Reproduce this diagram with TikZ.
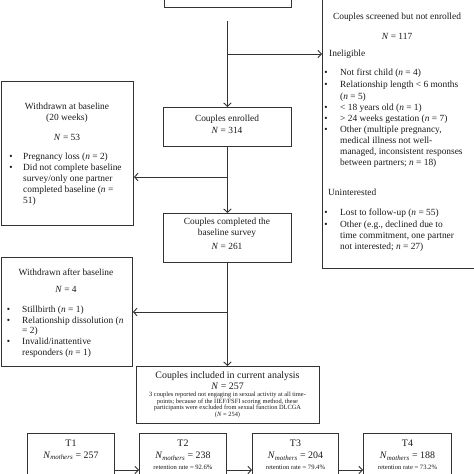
\documentclass[tikz,border=0pt]{standalone}
\usepackage{fontspec}
\setmainfont{Liberation Serif}
\usetikzlibrary{arrows.meta}
\newcommand\Nm{\textit{N}\textsubscript{\textit{mothers}}}
\begin{document}
\begin{tikzpicture}[x=1bp,y=-1bp,
  font=\fontsize{9.4bp}{11bp}\selectfont,
  box/.style={draw=black!80, line width=0.9bp, inner sep=0, anchor=north west},
  txt/.style={inner sep=0, align=center, text=black!90},
  tl/.style={inner sep=0, anchor=base west, text=black!90},
  bul/.style={inner sep=0, anchor=base, text=black!90},
  arr/.style={draw=black!80, line width=0.9bp, -{Straight Barb[length=3.5bp,width=7.5bp]}},
  small/.style={font=\fontsize{6.4bp}{6.4bp}\selectfont},
  tiny/.style={font=\fontsize{6.6bp}{7bp}\selectfont},
  big/.style={font=\fontsize{9.9bp}{11bp}\selectfont}]
\useasboundingbox (0,0) rectangle (474,474);
% boxes
\node[box, minimum width=127bp, minimum height=27bp] (top) at (164,-20) {};
\node[box, minimum width=160bp, minimum height=288bp] (screen) at (322,-20) {};
\node[box, minimum width=132bp, minimum height=144bp] (wb) at (1,81) {};
\node[box, minimum width=128bp, minimum height=39bp] (enr) at (163,107) {};
\node[box, minimum width=128bp, minimum height=49bp] (comp) at (163,213) {};
\node[box, minimum width=131bp, minimum height=109bp] (wa) at (1,257) {};
\node[box, minimum width=183bp, minimum height=57bp] (inc) at (136,366) {};
\node[box, minimum width=87bp, minimum height=60bp] (t1) at (27,433) {};
\node[box, minimum width=87bp, minimum height=60bp] (t2) at (139,433) {};
\node[box, minimum width=86bp, minimum height=60bp] (t3) at (252,433) {};
\node[box, minimum width=88bp, minimum height=60bp] (t4) at (363,433) {};
% connectors
\draw[arr] (enr.north |- 0,21) -- (enr.north);
\draw[arr] (enr.north |- 0,54) -- (screen.west |- 0,54);
\draw[arr] (enr.south) -- (comp.north);
\draw[arr] (enr.south |- 0,177) -- (wb.east |- 0,177);
\draw[arr] (comp.south) -- (comp.south |- inc.north);
\draw[arr] (comp.south |- 0,312) -- (wa.east |- 0,312);
\draw[arr] (t1.east |- 0,470) -- (t2.west |- 0,470);
\draw[arr] (t2.east |- 0,470) -- (t3.west |- 0,470);
\draw[arr] (t3.east |- 0,470) -- (t4.west |- 0,470);
% screened box text
\node[txt] (scrT) at (397,17) {Couples screened but not enrolled};
\node[txt] (scrN) at (397,36) {\textit{N} = 117};
\node[tl] (inel) at (329,57) {Ineligible};
\node[bul] (sb1) at (326,76) {\textbullet};
\node[tl] (s1) at (340,76) {Not first child (\textit{n} = 4)};
\node[bul] (sb2) at (326,88) {\textbullet};
\node[tl] (s2) at (340,88) {Relationship length < 6 months};
\node[tl] (s2b) at (340,99.2) {(\textit{n} = 5)};
\node[bul] (sb3) at (326,110.3) {\textbullet};
\node[tl] (s3) at (340,110.3) {< 18 years old (\textit{n} = 1)};
\node[bul] (sb4) at (326,121.5) {\textbullet};
\node[tl] (s4) at (340,121.5) {> 24 weeks gestation (\textit{n} = 7)};
\node[bul] (sb5) at (326,133) {\textbullet};
\node[tl] (s5) at (340,133) {Other (multiple pregnancy,};
\node[tl] (s5b) at (340,144) {medical illness not well-};
\node[tl] (s5c) at (340,155) {managed, inconsistent responses};
\node[tl] (s5d) at (340,166) {between partners; \textit{n} = 18)};
\node[tl] (unint) at (328,196) {Uninterested};
\node[bul] (ub1) at (326,216) {\textbullet};
\node[tl] (u1) at (340,216) {Lost to follow-up (\textit{n} = 55)};
\node[bul] (ub2) at (326,227.3) {\textbullet};
\node[tl] (u2) at (340,227.3) {Other (e.g., declined due to};
\node[tl] (u2b) at (340,238.3) {time commitment, one partner};
\node[tl] (u2c) at (340,249.3) {not interested; \textit{n} = 27)};
% withdrawn at baseline
\node[txt] (wbT) at (67,106) {Withdrawn at baseline};
\node[txt] (wbW) at (67,118) {(20 weeks)};
\node[txt] (wbN) at (67,137) {\textit{N} = 53};
\node[bul] (wbb1) at (11,159.5) {\textbullet};
\node[tl] (wb1) at (23,159.5) {Pregnancy loss (\textit{n} = 2)};
\node[bul] (wbb2) at (11,170.8) {\textbullet};
\node[tl] (wb2) at (23,170.8) {Did not complete baseline};
\node[tl] (wb2b) at (23,181.8) {survey/only one partner};
\node[tl] (wb2c) at (23,192.6) {completed baseline (\textit{n} =};
\node[tl] (wb2d) at (23,203.4) {51)};
% enrolled
\node[txt] (enrT) at (227,119) {Couples enrolled};
\node[txt] (enrN) at (227,130) {\textit{N} = 314};
% completed
\node[txt] (compT) at (227,228) {Couples completed the\\baseline survey};
\node[txt] (compN) at (227,246) {\textit{N} = 261};
% withdrawn after baseline
\node[txt] (waT) at (66,272) {Withdrawn after baseline};
\node[txt] (waN) at (66,289) {\textit{N} = 4};
\node[bul] (wab1) at (8.5,312) {\textbullet};
\node[tl] (wa1) at (22,312) {Stillbirth (\textit{n} = 1)};
\node[bul] (wab2) at (8.5,323) {\textbullet};
\node[tl] (wa2) at (22,323) {Relationship dissolution (\textit{n}};
\node[tl] (wa2b) at (22,333.5) {= 2)};
\node[bul] (wab3) at (8.5,344.5) {\textbullet};
\node[tl] (wa3) at (22,344.5) {Invalid/inattentive};
\node[tl] (wa3b) at (22,355.8) {responders (\textit{n} = 1)};
% included
\node[txt, big] (incT) at (227.5,376.5) {Couples included in current analysis};
\node[txt, big] (incN) at (227.5,386.5) {\textit{N} = 257};
\node[txt, small] (incS) at (227.5,405) {3 couples reported not engaging in sexual activity at all time-\\points; because of the IIEF/FSFI scoring method, these\\participants were excluded from sexual function DLCGA\\(\textit{N} = 254)};
% time points
\node[txt, big] (t1a) at (t1.north |- 0,443) {T1};
\node[txt, big] (t1b) at (t1.north |- 0,456) {\Nm{} = 257};
\node[txt, big] (t2a) at (t2.north |- 0,443) {T2};
\node[txt, big] (t2b) at (t2.north |- 0,456) {\Nm{} = 238};
\node[txt, tiny] (t2c) at (t2.north |- 0,467) {retention rate = 92.6\%};
\node[txt, big] (t3a) at (t3.north |- 0,443) {T3};
\node[txt, big] (t3b) at (t3.north |- 0,456) {\Nm{} = 204};
\node[txt, tiny] (t3c) at (t3.north |- 0,467) {retention rate = 79.4\%};
\node[txt, big] (t4a) at (t4.north |- 0,443) {T4};
\node[txt, big] (t4b) at (t4.north |- 0,456) {\Nm{} = 188};
\node[txt, tiny] (t4c) at (t4.north |- 0,467) {retention rate = 73.2\%};
\end{tikzpicture}
\end{document}
